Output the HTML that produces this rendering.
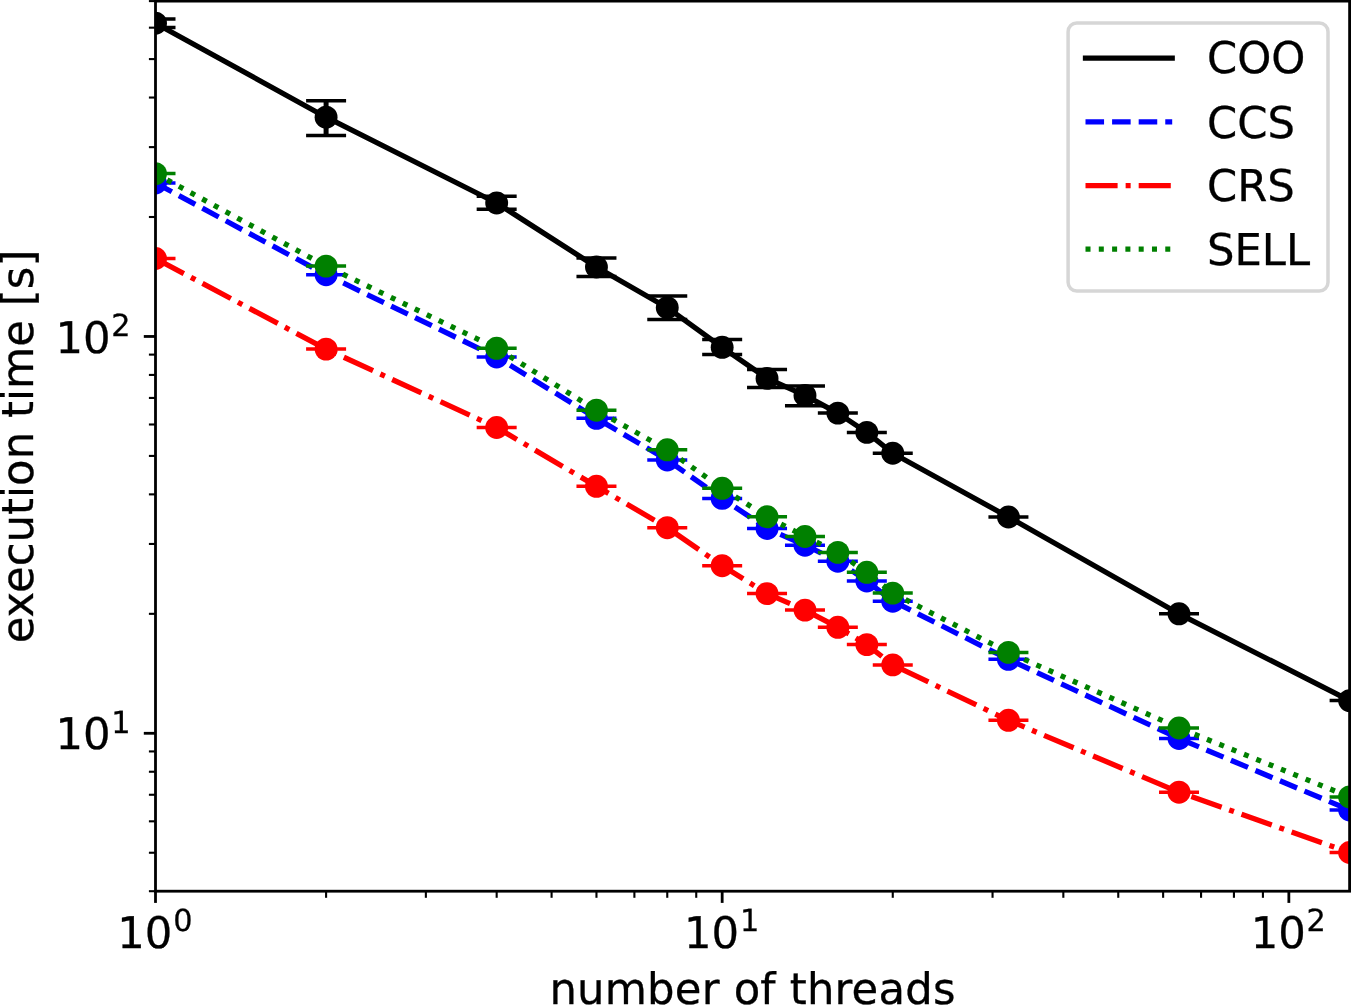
<!DOCTYPE html>
<html lang="en"><head><meta charset="utf-8"><title>execution time vs number of threads</title>
<style>html,body{margin:0;padding:0;background:#fff;}svg{display:block;}text{font-family:'DejaVu Sans', 'Liberation Sans', sans-serif;fill:#000;stroke:#000;stroke-width:0.3px;text-rendering:geometricPrecision;}</style></head><body>
<svg width="1351" height="1005" viewBox="0 0 1351 1005">
<defs><clipPath id="ax"><rect x="155.50" y="1.10" width="1194.10" height="890.10"/></clipPath></defs>
<rect x="0" y="0" width="1351" height="1005" fill="#ffffff"/>
<g clip-path="url(#ax)">
<g>
<polyline points="155.50,23.20 326.09,117.20 496.67,203.00 596.46,267.00 667.26,307.70 722.17,347.30 767.04,378.40 804.98,395.40 837.84,413.10 866.83,432.40 892.76,453.20 1008.43,517.00 1179.01,613.80 1349.60,700.60" fill="none" stroke="#000000" stroke-width="5.30" stroke-linejoin="round" stroke-linecap="square"/>
<circle cx="155.50" cy="23.20" r="11.45" fill="#000000"/>
<circle cx="326.09" cy="117.20" r="11.45" fill="#000000"/>
<circle cx="496.67" cy="203.00" r="11.45" fill="#000000"/>
<circle cx="596.46" cy="267.00" r="11.45" fill="#000000"/>
<circle cx="667.26" cy="307.70" r="11.45" fill="#000000"/>
<circle cx="722.17" cy="347.30" r="11.45" fill="#000000"/>
<circle cx="767.04" cy="378.40" r="11.45" fill="#000000"/>
<circle cx="804.98" cy="395.40" r="11.45" fill="#000000"/>
<circle cx="837.84" cy="413.10" r="11.45" fill="#000000"/>
<circle cx="866.83" cy="432.40" r="11.45" fill="#000000"/>
<circle cx="892.76" cy="453.20" r="11.45" fill="#000000"/>
<circle cx="1008.43" cy="517.00" r="11.45" fill="#000000"/>
<circle cx="1179.01" cy="613.80" r="11.45" fill="#000000"/>
<circle cx="1349.60" cy="700.60" r="11.45" fill="#000000"/>
<line x1="155.50" y1="19.10" x2="155.50" y2="27.60" stroke="#000000" stroke-width="5.00"/>
<line x1="135.50" y1="19.10" x2="175.50" y2="19.10" stroke="#000000" stroke-width="3.50"/>
<line x1="135.50" y1="27.60" x2="175.50" y2="27.60" stroke="#000000" stroke-width="3.50"/>
<line x1="326.09" y1="100.70" x2="326.09" y2="135.50" stroke="#000000" stroke-width="5.00"/>
<line x1="306.09" y1="100.70" x2="346.09" y2="100.70" stroke="#000000" stroke-width="3.50"/>
<line x1="306.09" y1="135.50" x2="346.09" y2="135.50" stroke="#000000" stroke-width="3.50"/>
<line x1="496.67" y1="196.30" x2="496.67" y2="209.20" stroke="#000000" stroke-width="5.00"/>
<line x1="476.67" y1="196.30" x2="516.67" y2="196.30" stroke="#000000" stroke-width="3.50"/>
<line x1="476.67" y1="209.20" x2="516.67" y2="209.20" stroke="#000000" stroke-width="3.50"/>
<line x1="596.46" y1="258.10" x2="596.46" y2="276.40" stroke="#000000" stroke-width="5.00"/>
<line x1="576.46" y1="258.10" x2="616.46" y2="258.10" stroke="#000000" stroke-width="3.50"/>
<line x1="576.46" y1="276.40" x2="616.46" y2="276.40" stroke="#000000" stroke-width="3.50"/>
<line x1="667.26" y1="296.10" x2="667.26" y2="319.60" stroke="#000000" stroke-width="5.00"/>
<line x1="647.26" y1="296.10" x2="687.26" y2="296.10" stroke="#000000" stroke-width="3.50"/>
<line x1="647.26" y1="319.60" x2="687.26" y2="319.60" stroke="#000000" stroke-width="3.50"/>
<line x1="722.17" y1="339.60" x2="722.17" y2="354.50" stroke="#000000" stroke-width="5.00"/>
<line x1="702.17" y1="339.60" x2="742.17" y2="339.60" stroke="#000000" stroke-width="3.50"/>
<line x1="702.17" y1="354.50" x2="742.17" y2="354.50" stroke="#000000" stroke-width="3.50"/>
<line x1="767.04" y1="369.50" x2="767.04" y2="387.50" stroke="#000000" stroke-width="5.00"/>
<line x1="747.04" y1="369.50" x2="787.04" y2="369.50" stroke="#000000" stroke-width="3.50"/>
<line x1="747.04" y1="387.50" x2="787.04" y2="387.50" stroke="#000000" stroke-width="3.50"/>
<line x1="804.98" y1="386.00" x2="804.98" y2="405.80" stroke="#000000" stroke-width="5.00"/>
<line x1="784.98" y1="386.00" x2="824.98" y2="386.00" stroke="#000000" stroke-width="3.50"/>
<line x1="784.98" y1="405.80" x2="824.98" y2="405.80" stroke="#000000" stroke-width="3.50"/>
<line x1="817.84" y1="413.10" x2="857.84" y2="413.10" stroke="#000000" stroke-width="3.50"/>
<line x1="846.83" y1="432.40" x2="886.83" y2="432.40" stroke="#000000" stroke-width="3.50"/>
<line x1="872.76" y1="453.20" x2="912.76" y2="453.20" stroke="#000000" stroke-width="3.50"/>
<line x1="988.43" y1="517.00" x2="1028.43" y2="517.00" stroke="#000000" stroke-width="3.50"/>
<line x1="1159.01" y1="613.80" x2="1199.01" y2="613.80" stroke="#000000" stroke-width="3.50"/>
<line x1="1329.60" y1="700.60" x2="1369.60" y2="700.60" stroke="#000000" stroke-width="3.50"/>
</g>
<g>
<polyline points="155.50,183.00 326.09,274.70 496.67,357.00 596.46,418.30 667.26,460.00 722.17,498.40 767.04,528.50 804.98,545.20 837.84,561.20 866.83,581.00 892.76,601.20 1008.43,659.30 1179.01,738.50 1349.60,810.00" fill="none" stroke="#0000ff" stroke-width="5.30" stroke-linejoin="round" stroke-dasharray="18.563 8.027" stroke-linecap="butt"/>
<circle cx="155.50" cy="183.00" r="11.45" fill="#0000ff"/>
<circle cx="326.09" cy="274.70" r="11.45" fill="#0000ff"/>
<circle cx="496.67" cy="357.00" r="11.45" fill="#0000ff"/>
<circle cx="596.46" cy="418.30" r="11.45" fill="#0000ff"/>
<circle cx="667.26" cy="460.00" r="11.45" fill="#0000ff"/>
<circle cx="722.17" cy="498.40" r="11.45" fill="#0000ff"/>
<circle cx="767.04" cy="528.50" r="11.45" fill="#0000ff"/>
<circle cx="804.98" cy="545.20" r="11.45" fill="#0000ff"/>
<circle cx="837.84" cy="561.20" r="11.45" fill="#0000ff"/>
<circle cx="866.83" cy="581.00" r="11.45" fill="#0000ff"/>
<circle cx="892.76" cy="601.20" r="11.45" fill="#0000ff"/>
<circle cx="1008.43" cy="659.30" r="11.45" fill="#0000ff"/>
<circle cx="1179.01" cy="738.50" r="11.45" fill="#0000ff"/>
<circle cx="1349.60" cy="810.00" r="11.45" fill="#0000ff"/>
<line x1="135.50" y1="183.00" x2="175.50" y2="183.00" stroke="#0000ff" stroke-width="3.50"/>
<line x1="306.09" y1="274.70" x2="346.09" y2="274.70" stroke="#0000ff" stroke-width="3.50"/>
<line x1="476.67" y1="357.00" x2="516.67" y2="357.00" stroke="#0000ff" stroke-width="3.50"/>
<line x1="576.46" y1="418.30" x2="616.46" y2="418.30" stroke="#0000ff" stroke-width="3.50"/>
<line x1="647.26" y1="460.00" x2="687.26" y2="460.00" stroke="#0000ff" stroke-width="3.50"/>
<line x1="702.17" y1="498.40" x2="742.17" y2="498.40" stroke="#0000ff" stroke-width="3.50"/>
<line x1="747.04" y1="528.50" x2="787.04" y2="528.50" stroke="#0000ff" stroke-width="3.50"/>
<line x1="784.98" y1="545.20" x2="824.98" y2="545.20" stroke="#0000ff" stroke-width="3.50"/>
<line x1="817.84" y1="561.20" x2="857.84" y2="561.20" stroke="#0000ff" stroke-width="3.50"/>
<line x1="846.83" y1="581.00" x2="886.83" y2="581.00" stroke="#0000ff" stroke-width="3.50"/>
<line x1="872.76" y1="601.20" x2="912.76" y2="601.20" stroke="#0000ff" stroke-width="3.50"/>
<line x1="988.43" y1="659.30" x2="1028.43" y2="659.30" stroke="#0000ff" stroke-width="3.50"/>
<line x1="1159.01" y1="738.50" x2="1199.01" y2="738.50" stroke="#0000ff" stroke-width="3.50"/>
<line x1="1329.60" y1="810.00" x2="1369.60" y2="810.00" stroke="#0000ff" stroke-width="3.50"/>
</g>
<g>
<polyline points="155.50,258.50 326.09,349.10 496.67,427.50 596.46,486.30 667.26,527.70 722.17,565.70 767.04,593.60 804.98,610.10 837.84,627.30 866.83,644.60 892.76,664.90 1008.43,720.30 1179.01,792.20 1349.60,852.50" fill="none" stroke="#ff0000" stroke-width="5.30" stroke-linejoin="round" stroke-dasharray="32.109 8.027 5.017 8.027" stroke-linecap="butt"/>
<circle cx="155.50" cy="258.50" r="11.45" fill="#ff0000"/>
<circle cx="326.09" cy="349.10" r="11.45" fill="#ff0000"/>
<circle cx="496.67" cy="427.50" r="11.45" fill="#ff0000"/>
<circle cx="596.46" cy="486.30" r="11.45" fill="#ff0000"/>
<circle cx="667.26" cy="527.70" r="11.45" fill="#ff0000"/>
<circle cx="722.17" cy="565.70" r="11.45" fill="#ff0000"/>
<circle cx="767.04" cy="593.60" r="11.45" fill="#ff0000"/>
<circle cx="804.98" cy="610.10" r="11.45" fill="#ff0000"/>
<circle cx="837.84" cy="627.30" r="11.45" fill="#ff0000"/>
<circle cx="866.83" cy="644.60" r="11.45" fill="#ff0000"/>
<circle cx="892.76" cy="664.90" r="11.45" fill="#ff0000"/>
<circle cx="1008.43" cy="720.30" r="11.45" fill="#ff0000"/>
<circle cx="1179.01" cy="792.20" r="11.45" fill="#ff0000"/>
<circle cx="1349.60" cy="852.50" r="11.45" fill="#ff0000"/>
<line x1="135.50" y1="258.50" x2="175.50" y2="258.50" stroke="#ff0000" stroke-width="3.50"/>
<line x1="306.09" y1="349.10" x2="346.09" y2="349.10" stroke="#ff0000" stroke-width="3.50"/>
<line x1="476.67" y1="427.50" x2="516.67" y2="427.50" stroke="#ff0000" stroke-width="3.50"/>
<line x1="576.46" y1="486.30" x2="616.46" y2="486.30" stroke="#ff0000" stroke-width="3.50"/>
<line x1="647.26" y1="527.70" x2="687.26" y2="527.70" stroke="#ff0000" stroke-width="3.50"/>
<line x1="702.17" y1="565.70" x2="742.17" y2="565.70" stroke="#ff0000" stroke-width="3.50"/>
<line x1="747.04" y1="593.60" x2="787.04" y2="593.60" stroke="#ff0000" stroke-width="3.50"/>
<line x1="784.98" y1="610.10" x2="824.98" y2="610.10" stroke="#ff0000" stroke-width="3.50"/>
<line x1="817.84" y1="627.30" x2="857.84" y2="627.30" stroke="#ff0000" stroke-width="3.50"/>
<line x1="846.83" y1="644.60" x2="886.83" y2="644.60" stroke="#ff0000" stroke-width="3.50"/>
<line x1="872.76" y1="664.90" x2="912.76" y2="664.90" stroke="#ff0000" stroke-width="3.50"/>
<line x1="988.43" y1="720.30" x2="1028.43" y2="720.30" stroke="#ff0000" stroke-width="3.50"/>
<line x1="1159.01" y1="792.20" x2="1199.01" y2="792.20" stroke="#ff0000" stroke-width="3.50"/>
<line x1="1329.60" y1="852.50" x2="1369.60" y2="852.50" stroke="#ff0000" stroke-width="3.50"/>
</g>
<g>
<polyline points="155.50,173.60 326.09,266.10 496.67,348.30 596.46,410.20 667.26,449.80 722.17,488.30 767.04,516.80 804.98,536.50 837.84,552.40 866.83,572.30 892.76,593.10 1008.43,652.40 1179.01,728.00 1349.60,796.90" fill="none" stroke="#008000" stroke-width="5.30" stroke-linejoin="round" stroke-dasharray="5.017 8.278" stroke-linecap="butt"/>
<circle cx="155.50" cy="173.60" r="11.45" fill="#008000"/>
<circle cx="326.09" cy="266.10" r="11.45" fill="#008000"/>
<circle cx="496.67" cy="348.30" r="11.45" fill="#008000"/>
<circle cx="596.46" cy="410.20" r="11.45" fill="#008000"/>
<circle cx="667.26" cy="449.80" r="11.45" fill="#008000"/>
<circle cx="722.17" cy="488.30" r="11.45" fill="#008000"/>
<circle cx="767.04" cy="516.80" r="11.45" fill="#008000"/>
<circle cx="804.98" cy="536.50" r="11.45" fill="#008000"/>
<circle cx="837.84" cy="552.40" r="11.45" fill="#008000"/>
<circle cx="866.83" cy="572.30" r="11.45" fill="#008000"/>
<circle cx="892.76" cy="593.10" r="11.45" fill="#008000"/>
<circle cx="1008.43" cy="652.40" r="11.45" fill="#008000"/>
<circle cx="1179.01" cy="728.00" r="11.45" fill="#008000"/>
<circle cx="1349.60" cy="796.90" r="11.45" fill="#008000"/>
<line x1="135.50" y1="173.60" x2="175.50" y2="173.60" stroke="#008000" stroke-width="3.50"/>
<line x1="306.09" y1="266.10" x2="346.09" y2="266.10" stroke="#008000" stroke-width="3.50"/>
<line x1="476.67" y1="348.30" x2="516.67" y2="348.30" stroke="#008000" stroke-width="3.50"/>
<line x1="576.46" y1="410.20" x2="616.46" y2="410.20" stroke="#008000" stroke-width="3.50"/>
<line x1="647.26" y1="449.80" x2="687.26" y2="449.80" stroke="#008000" stroke-width="3.50"/>
<line x1="702.17" y1="488.30" x2="742.17" y2="488.30" stroke="#008000" stroke-width="3.50"/>
<line x1="747.04" y1="516.80" x2="787.04" y2="516.80" stroke="#008000" stroke-width="3.50"/>
<line x1="784.98" y1="536.50" x2="824.98" y2="536.50" stroke="#008000" stroke-width="3.50"/>
<line x1="817.84" y1="552.40" x2="857.84" y2="552.40" stroke="#008000" stroke-width="3.50"/>
<line x1="846.83" y1="572.30" x2="886.83" y2="572.30" stroke="#008000" stroke-width="3.50"/>
<line x1="872.76" y1="593.10" x2="912.76" y2="593.10" stroke="#008000" stroke-width="3.50"/>
<line x1="988.43" y1="652.40" x2="1028.43" y2="652.40" stroke="#008000" stroke-width="3.50"/>
<line x1="1159.01" y1="728.00" x2="1199.01" y2="728.00" stroke="#008000" stroke-width="3.50"/>
<line x1="1329.60" y1="796.90" x2="1369.60" y2="796.90" stroke="#008000" stroke-width="3.50"/>
</g>
</g>
<g stroke="#000" fill="none">
<line x1="155.50" y1="891.20" x2="155.50" y2="902.90" stroke-width="2.80"/>
<line x1="722.17" y1="891.20" x2="722.17" y2="902.90" stroke-width="2.80"/>
<line x1="1288.85" y1="891.20" x2="1288.85" y2="902.90" stroke-width="2.80"/>
<line x1="326.09" y1="891.20" x2="326.09" y2="897.80" stroke-width="2.10"/>
<line x1="425.87" y1="891.20" x2="425.87" y2="897.80" stroke-width="2.10"/>
<line x1="496.67" y1="891.20" x2="496.67" y2="897.80" stroke-width="2.10"/>
<line x1="551.59" y1="891.20" x2="551.59" y2="897.80" stroke-width="2.10"/>
<line x1="596.46" y1="891.20" x2="596.46" y2="897.80" stroke-width="2.10"/>
<line x1="634.39" y1="891.20" x2="634.39" y2="897.80" stroke-width="2.10"/>
<line x1="667.26" y1="891.20" x2="667.26" y2="897.80" stroke-width="2.10"/>
<line x1="696.24" y1="891.20" x2="696.24" y2="897.80" stroke-width="2.10"/>
<line x1="892.76" y1="891.20" x2="892.76" y2="897.80" stroke-width="2.10"/>
<line x1="992.55" y1="891.20" x2="992.55" y2="897.80" stroke-width="2.10"/>
<line x1="1063.34" y1="891.20" x2="1063.34" y2="897.80" stroke-width="2.10"/>
<line x1="1118.26" y1="891.20" x2="1118.26" y2="897.80" stroke-width="2.10"/>
<line x1="1163.13" y1="891.20" x2="1163.13" y2="897.80" stroke-width="2.10"/>
<line x1="1201.07" y1="891.20" x2="1201.07" y2="897.80" stroke-width="2.10"/>
<line x1="1233.93" y1="891.20" x2="1233.93" y2="897.80" stroke-width="2.10"/>
<line x1="1262.92" y1="891.20" x2="1262.92" y2="897.80" stroke-width="2.10"/>
<line x1="155.50" y1="733.29" x2="143.80" y2="733.29" stroke-width="2.80"/>
<line x1="155.50" y1="336.46" x2="143.80" y2="336.46" stroke-width="2.80"/>
<line x1="155.50" y1="891.20" x2="148.90" y2="891.20" stroke-width="2.10"/>
<line x1="155.50" y1="852.74" x2="148.90" y2="852.74" stroke-width="2.10"/>
<line x1="155.50" y1="821.32" x2="148.90" y2="821.32" stroke-width="2.10"/>
<line x1="155.50" y1="794.76" x2="148.90" y2="794.76" stroke-width="2.10"/>
<line x1="155.50" y1="771.74" x2="148.90" y2="771.74" stroke-width="2.10"/>
<line x1="155.50" y1="751.44" x2="148.90" y2="751.44" stroke-width="2.10"/>
<line x1="155.50" y1="613.83" x2="148.90" y2="613.83" stroke-width="2.10"/>
<line x1="155.50" y1="543.95" x2="148.90" y2="543.95" stroke-width="2.10"/>
<line x1="155.50" y1="494.37" x2="148.90" y2="494.37" stroke-width="2.10"/>
<line x1="155.50" y1="455.92" x2="148.90" y2="455.92" stroke-width="2.10"/>
<line x1="155.50" y1="424.49" x2="148.90" y2="424.49" stroke-width="2.10"/>
<line x1="155.50" y1="397.93" x2="148.90" y2="397.93" stroke-width="2.10"/>
<line x1="155.50" y1="374.92" x2="148.90" y2="374.92" stroke-width="2.10"/>
<line x1="155.50" y1="354.62" x2="148.90" y2="354.62" stroke-width="2.10"/>
<line x1="155.50" y1="217.00" x2="148.90" y2="217.00" stroke-width="2.10"/>
<line x1="155.50" y1="147.12" x2="148.90" y2="147.12" stroke-width="2.10"/>
<line x1="155.50" y1="97.54" x2="148.90" y2="97.54" stroke-width="2.10"/>
<line x1="155.50" y1="59.09" x2="148.90" y2="59.09" stroke-width="2.10"/>
<line x1="155.50" y1="27.67" x2="148.90" y2="27.67" stroke-width="2.10"/>
<line x1="155.50" y1="1.10" x2="148.90" y2="1.10" stroke-width="2.10"/>
<rect x="155.50" y="1.10" width="1194.10" height="890.10" stroke-width="2.80" stroke-linejoin="miter"/>
</g>
<text transform="translate(117.30,947.50) scale(1,1.005)" font-size="43.33">10</text>
<text transform="translate(173.24,931.00) scale(1,1.005)" font-size="30.33">0</text>
<text transform="translate(683.97,947.50) scale(1,1.005)" font-size="43.33">10</text>
<text transform="translate(739.91,931.00) scale(1,1.005)" font-size="30.33">1</text>
<text transform="translate(1250.65,947.50) scale(1,1.005)" font-size="43.33">10</text>
<text transform="translate(1306.58,931.00) scale(1,1.005)" font-size="30.33">2</text>
<text transform="translate(55.40,749.49) scale(1,1.005)" font-size="43.33">10</text>
<text transform="translate(111.34,732.99) scale(1,1.005)" font-size="30.33">1</text>
<text transform="translate(55.40,352.66) scale(1,1.005)" font-size="43.33">10</text>
<text transform="translate(111.34,336.16) scale(1,1.005)" font-size="30.33">2</text>
<text transform="translate(752.55,1004.40) scale(1,1.0)" font-size="43.33" text-anchor="middle" letter-spacing="0.19">number of threads</text>
<text transform="translate(33.00,446.50) rotate(-90) scale(1,1.016)" font-size="43.33" text-anchor="middle" letter-spacing="0.04">execution time [s]</text>
<rect x="1068.10" y="23.00" width="259.90" height="268.00" rx="8.7" ry="8.7" fill="#ffffff" stroke="#d6d6d6" stroke-width="3.5"/>
<line x1="1085.50" y1="58.20" x2="1172.20" y2="58.20" stroke="#000000" stroke-width="5.30" stroke-linecap="square"/>
<text transform="translate(1206.90,73.20) scale(1,1.01)" font-size="43.33">COO</text>
<line x1="1085.50" y1="121.90" x2="1172.20" y2="121.90" stroke="#0000ff" stroke-width="5.30" stroke-dasharray="18.563 8.027" stroke-linecap="butt"/>
<text transform="translate(1206.90,137.50) scale(1,1.01)" font-size="43.33">CCS</text>
<line x1="1085.50" y1="185.60" x2="1172.20" y2="185.60" stroke="#ff0000" stroke-width="5.30" stroke-dasharray="32.109 8.027 5.017 8.027" stroke-linecap="butt"/>
<text transform="translate(1206.90,201.00) scale(1,1.01)" font-size="43.33">CRS</text>
<line x1="1085.50" y1="249.20" x2="1172.20" y2="249.20" stroke="#008000" stroke-width="5.30" stroke-dasharray="5.017 8.278" stroke-linecap="butt"/>
<text transform="translate(1206.90,265.00) scale(1,1.01)" font-size="43.33">SELL</text>
</svg></body></html>
